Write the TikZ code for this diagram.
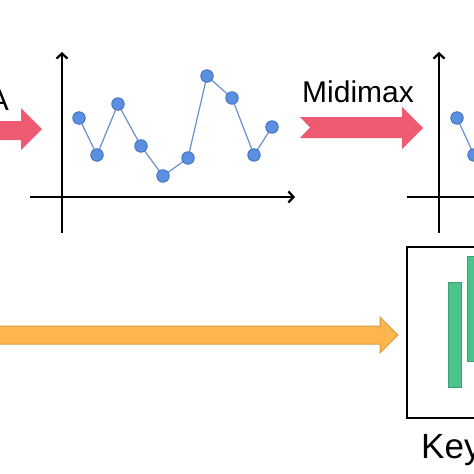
\documentclass[tikz,border=0pt]{standalone}
\usepackage{fontspec}
\setmainfont{Liberation Sans}
\usetikzlibrary{arrows.meta}
\definecolor{pinkarrow}{HTML}{EE5A72}
\definecolor{orangefill}{HTML}{FDB54F}
\definecolor{orangeline}{HTML}{D99C3E}
\definecolor{greenfill}{HTML}{4CC38A}
\definecolor{greenline}{HTML}{3A9E6E}
\definecolor{dotfill}{HTML}{5B8FE2}
\definecolor{dotline}{HTML}{3F6FBF}
\definecolor{seriesline}{HTML}{6A8FCF}
\tikzset{
  axis/.style={line width=2.3pt, black, -{Straight Barb[length=5pt,width=11pt,line width=2.3pt]}},
  axisplain/.style={line width=2.3pt, black},
  dot/.style={circle, fill=dotfill, draw=dotline, line width=0.8pt, minimum size=12.5pt, inner sep=0pt},
  series/.style={seriesline, line width=1.2pt},
  bigarrow/.style={fill=pinkarrow, draw=none},
  orangearrow/.style={fill=orangefill, draw=orangeline, line width=1pt},
  bar/.style={fill=greenfill, draw=greenline, line width=0.8pt},
  lbl/.style={inner sep=0pt, font=\fontsize{30}{36}\selectfont},
  keylbl/.style={inner sep=0pt, font=\fontsize{35}{42}\selectfont},
}
\begin{document}
\begin{tikzpicture}[x=1pt,y=-1pt]
\useasboundingbox (0,0) rectangle (474,474);
\clip (0,0) rectangle (474,474);
\fill[white] (0,0) rectangle (474,474);

% left pink arrow (cut off)
\fill[bigarrow] (-20,121) -- (21,121) -- (21,108) -- (42,129) -- (21,150) -- (21,140) -- (-20,140) -- cycle;
\node[lbl, anchor=base east] (lblA) at (9,110) {A};

% first plot
\coordinate (ya1) at (62,233);
\coordinate (yb1) at (62,52);
\coordinate (xa1) at (30,197);
\coordinate (xb1) at (295,197);
\draw[axis] (ya1) -- (yb1);
\draw[axis] (xa1) -- (xb1);
\foreach \n/\x/\y in {1/79/118, 2/97/155, 3/118/104, 4/141/146, 5/163/176, 6/188/158, 7/207/76, 8/232/98, 9/254/155, 10/272/127}
  \coordinate (p\n) at (\x,\y);
\draw[series] (p1) -- (p2) -- (p3) -- (p4) -- (p5) -- (p6) -- (p7) -- (p8) -- (p9) -- (p10);
\foreach \n in {1,...,10} \node[dot] (d\n) at (p\n) {};

% Midimax arrow
\fill[bigarrow] (300,117) -- (402,117) -- (402,107) -- (423,128) -- (402,149) -- (402,138) -- (300,138) -- (310,127.5) -- cycle;
\node[lbl, anchor=base west] (midimax) at (302,102) {Midimax};

% second plot (cut off)
\coordinate (ya2) at (439,233);
\coordinate (yb2) at (439,52);
\coordinate (xa2) at (407,197);
\coordinate (xb2) at (500,197);
\draw[axis] (ya2) -- (yb2);
\draw[axisplain] (xa2) -- (xb2);
\coordinate (q1) at (457,118);
\coordinate (q2) at (474,155);
\coordinate (q3) at (495,104);
\draw[series] (q1) -- (q2) -- (q3);
\node[dot] (e1) at (q1) {};
\node[dot] (e2) at (q2) {};

% orange arrow
\draw[orangearrow] (-10,326) -- (380,326) -- (380,317) -- (398,335) -- (380,353) -- (380,344) -- (-10,344) -- cycle;

% key box
\draw[line width=2pt] (490,247) -- (407,247) -- (407,418) -- (490,418);
\draw[bar] (448,282) rectangle (461,387);
\draw[bar] (467,256) rectangle (480,361);
\node[keylbl, anchor=base west] (key) at (421,458) {Key};
\end{tikzpicture}
\end{document}
